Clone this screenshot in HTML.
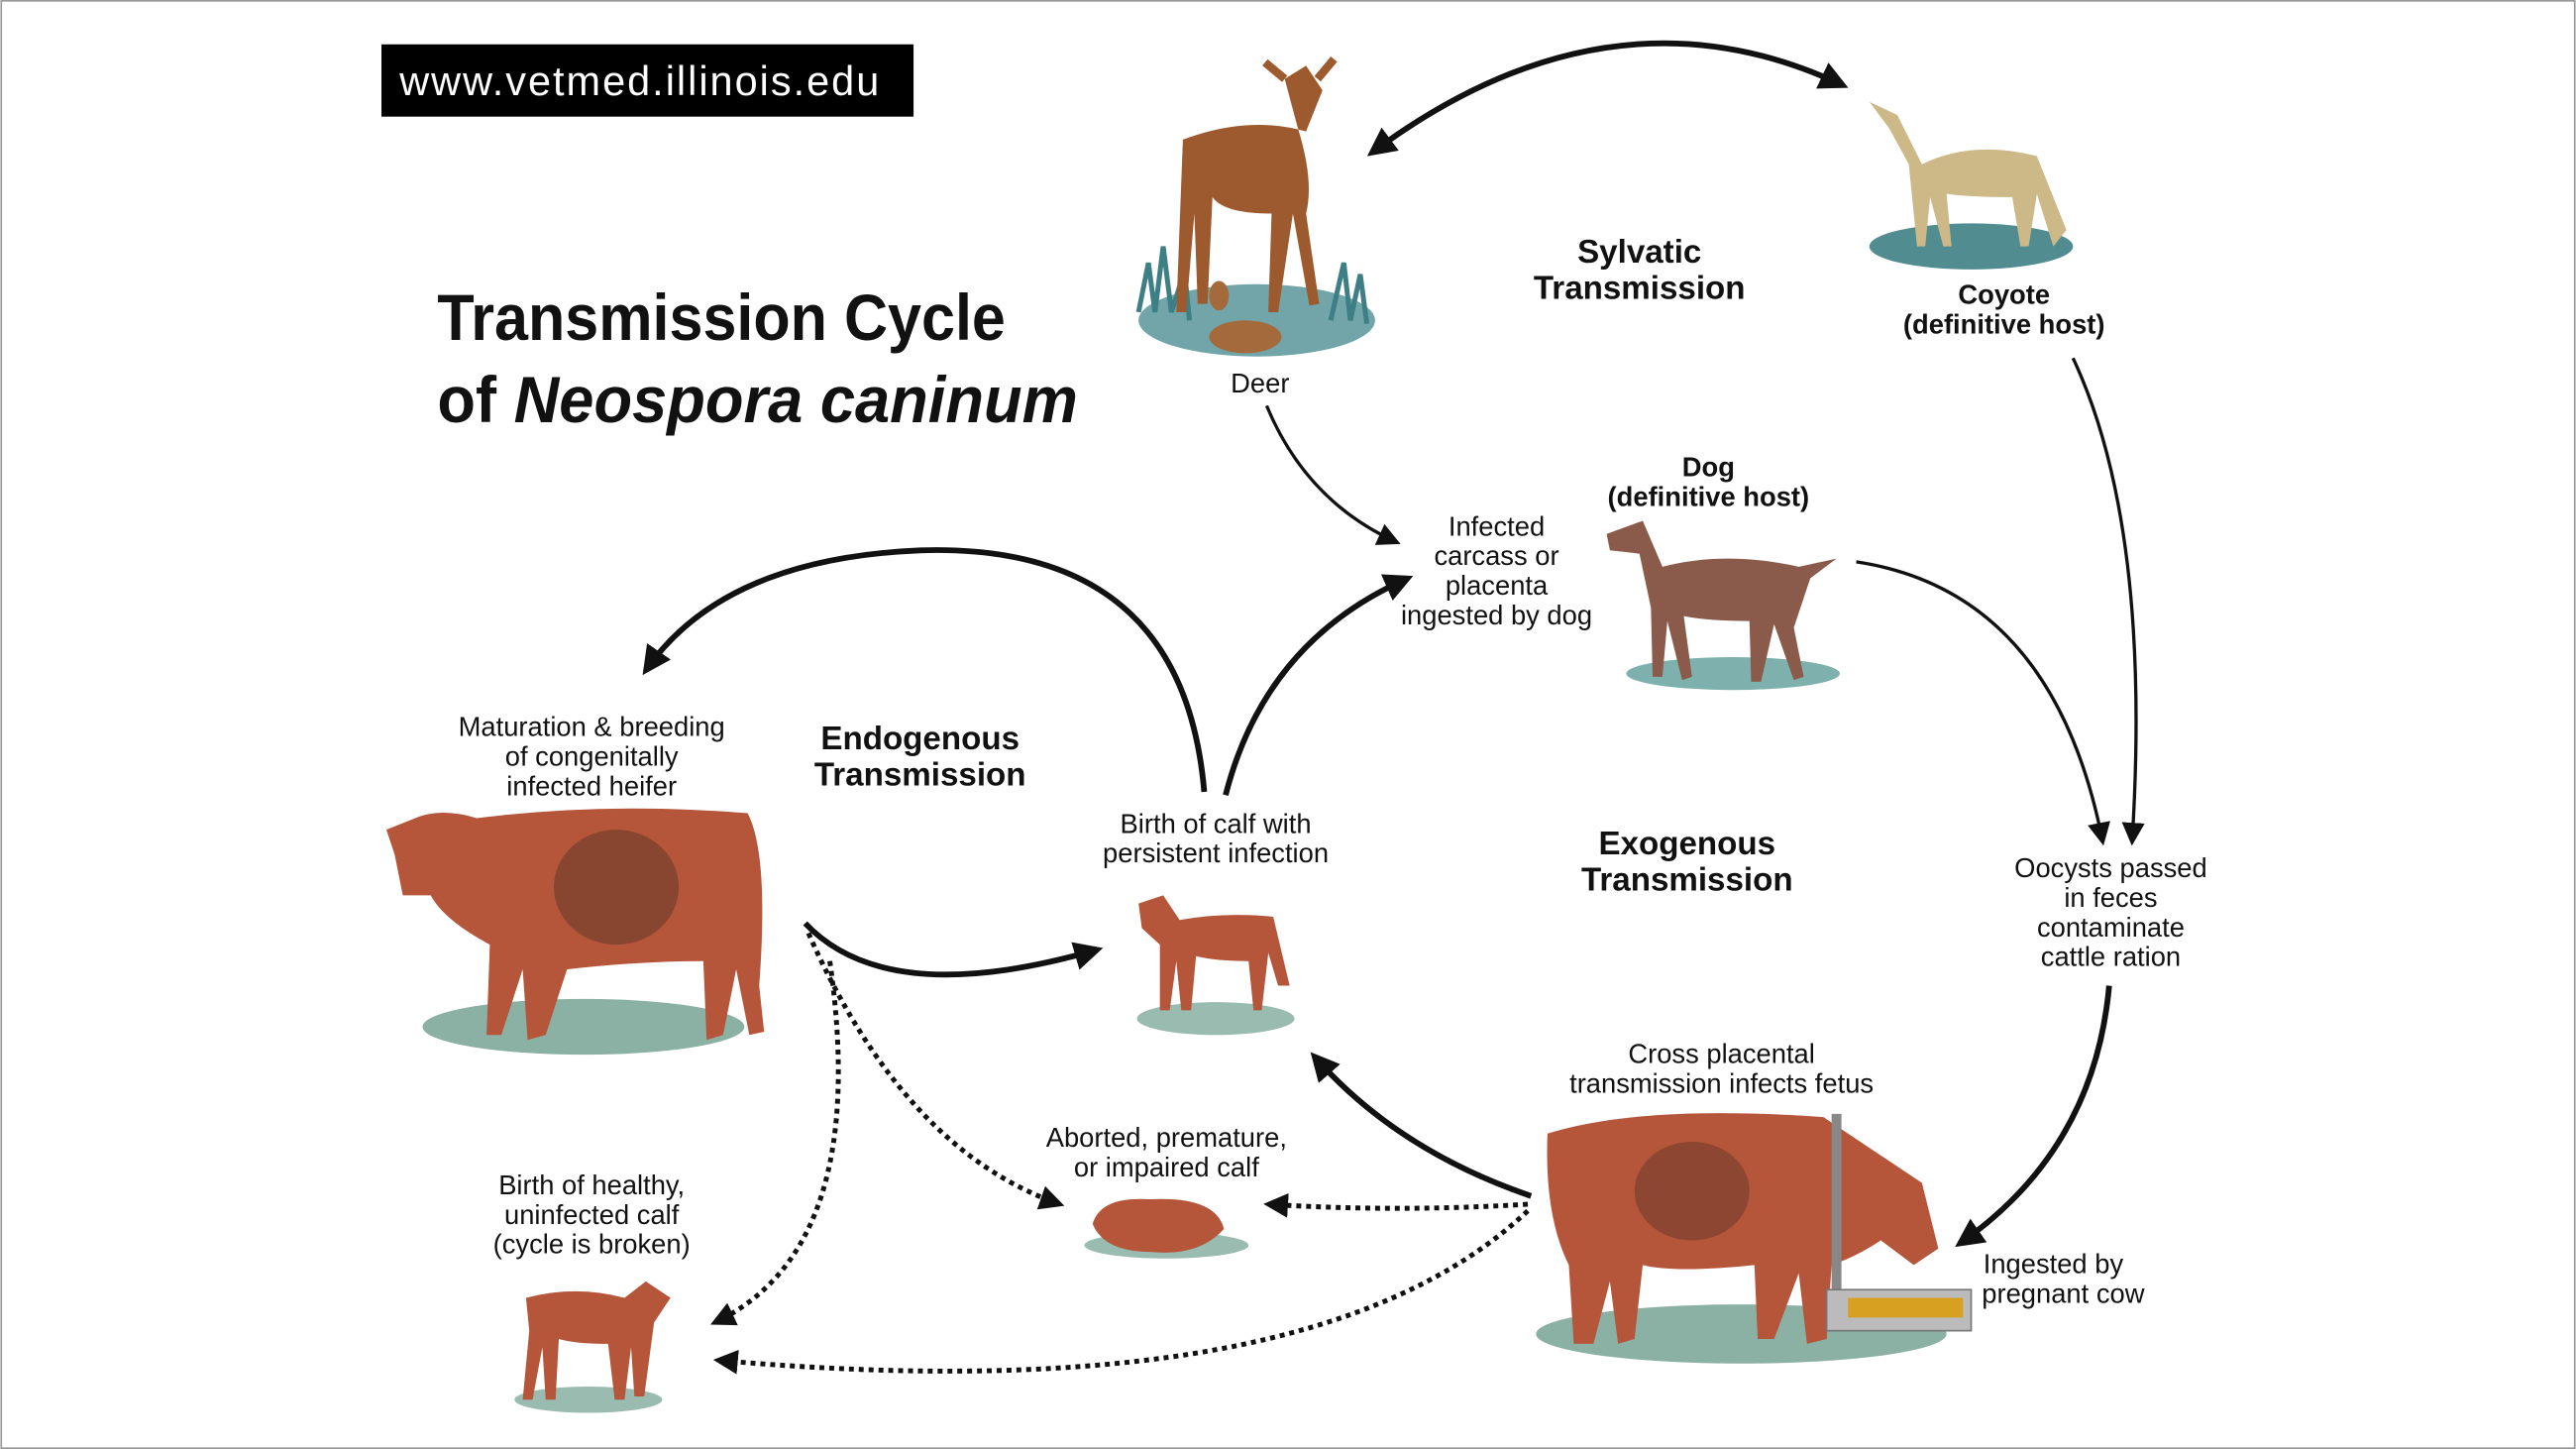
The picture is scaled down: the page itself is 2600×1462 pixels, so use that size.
<!DOCTYPE html>
<html><head><meta charset="utf-8"><style>
html,body{margin:0;padding:0;background:#fff}
svg{display:block}
text{font-family:"Liberation Sans",Arial,sans-serif;fill:#111}
</style></head><body>
<svg width="2600" height="1462" viewBox="0 0 1568 882" xmlns="http://www.w3.org/2000/svg">
<defs>
<marker id="ah" viewBox="0 0 10 10" refX="8" refY="5" markerWidth="5" markerHeight="5" orient="auto-start-reverse"><path d="M0,0 L10,5 L0,10 z" fill="#111"/></marker>
<marker id="ahs" viewBox="0 0 10 10" refX="8" refY="5" markerWidth="7" markerHeight="7" orient="auto-start-reverse"><path d="M0,0 L10,5 L0,10 z" fill="#111"/></marker>
</defs>
<rect x="0.5" y="0.5" width="1567" height="881" fill="#fff" stroke="#999" stroke-width="1"/>
<rect x="232" y="27" width="324" height="44" fill="#000"/>
<text x="243" y="58" font-size="25" style="fill:#fff" textLength="292">www.vetmed.illinois.edu</text>

<text x="266" y="207" font-size="40" font-weight="bold" textLength="346" lengthAdjust="spacingAndGlyphs">Transmission Cycle</text>
<text x="266" y="257" font-size="40" font-weight="bold" textLength="390" lengthAdjust="spacingAndGlyphs">of <tspan font-style="italic">Neospora caninum</tspan></text>

<g font-weight="bold" font-size="20" text-anchor="middle">
<text x="998" y="160">Sylvatic</text><text x="998" y="182">Transmission</text>
<text x="560" y="456">Endogenous</text><text x="560" y="478">Transmission</text>
<text x="1027" y="520">Exogenous</text><text x="1027" y="542">Transmission</text>
</g>
<g font-size="16.5" text-anchor="middle">
<text x="767" y="239">Deer</text>
<text x="1220" y="185" font-weight="bold">Coyote</text><text x="1220" y="203" font-weight="bold">(definitive host)</text>
<text x="1040" y="290" font-weight="bold">Dog</text><text x="1040" y="308" font-weight="bold">(definitive host)</text>
<text x="911" y="326">Infected</text><text x="911" y="344">carcass or</text><text x="911" y="362">placenta</text><text x="911" y="380">ingested by dog</text>
<text x="360" y="448">Maturation &amp; breeding</text><text x="360" y="466">of congenitally</text><text x="360" y="484">infected heifer</text>
<text x="740" y="507">Birth of calf with</text><text x="740" y="525">persistent infection</text>
<text x="1285" y="534">Oocysts passed</text><text x="1285" y="552">in feces</text><text x="1285" y="570">contaminate</text><text x="1285" y="588">cattle ration</text>
<text x="1048" y="647">Cross placental</text><text x="1048" y="665">transmission infects fetus</text>
<text x="710" y="698">Aborted, premature,</text><text x="710" y="716">or impaired calf</text>
<text x="360" y="727">Birth of healthy,</text><text x="360" y="745">uninfected calf</text><text x="360" y="763">(cycle is broken)</text>
<text x="1250" y="775">Ingested by</text><text x="1256" y="793">pregnant cow</text>
</g>

<!-- arrows -->
<g fill="none" stroke="#111">
<path d="M835,93 Q980,-15 1122,52" stroke-width="3.5" marker-start="url(#ah)" marker-end="url(#ah)"/>
<path d="M771,247 Q795,305 850,330" stroke-width="2" marker-end="url(#ahs)"/>
<path d="M1130,342 Q1250,360 1280,512" stroke-width="2" marker-end="url(#ahs)"/>
<path d="M1262,218 Q1310,320 1298,512" stroke-width="2" marker-end="url(#ahs)"/>
<path d="M1284,600 Q1275,700 1193,757" stroke-width="3.5" marker-end="url(#ah)"/>
<path d="M932,728 Q850,700 800,643" stroke-width="3.5" marker-end="url(#ah)"/>
<path d="M746,484 Q770,390 857,352" stroke-width="3.5" marker-end="url(#ah)"/>
<path d="M733,482 Q720,330 560,335 Q440,340 393,408" stroke-width="3.5" marker-end="url(#ah)"/>
<path d="M490,562 Q540,615 668,578" stroke-width="3.5" marker-end="url(#ah)"/>
<g stroke-width="3" stroke-dasharray="3,3">
<path d="M492,568 Q550,700 645,733" marker-end="url(#ah)"/>
<path d="M505,585 Q530,760 435,805" marker-end="url(#ah)"/>
<path d="M930,733 Q850,738 772,733" marker-end="url(#ah)"/>
<path d="M930,737 Q800,860 437,828" marker-end="url(#ah)"/>
</g>
</g>

<!-- deer -->
<ellipse cx="765" cy="195" rx="72" ry="22" fill="#4d8f94" opacity="0.8"/>
<path d="M693,190 l6,-30 l4,30 l5,-40 l5,40 l8,-25 l3,30 M810,195 l8,-35 l4,35 l6,-28 l4,30" stroke="#3d7f84" stroke-width="3" fill="none"/>
<path d="M720,85 Q760,70 795,80 L805,55 L795,40 L782,48 L790,78 Q800,110 795,130 L803,185 L797,186 L787,130 L778,190 L772,190 L774,130 Q745,130 738,120 L735,185 L729,185 L727,130 L722,190 L716,190 Z" fill="#9c5a2e"/>
<path d="M770,38 l12,10 M812,36 l-10,12" stroke="#9c5a2e" stroke-width="5"/>
<ellipse cx="758" cy="205" rx="22" ry="10" fill="#a46a3c"/>
<ellipse cx="742" cy="180" rx="6" ry="9" fill="#a46a3c"/>
<!-- coyote -->
<ellipse cx="1200" cy="150" rx="62" ry="14" fill="#3d7f84" opacity="0.9"/>
<path d="M1138,62 L1155,70 L1170,100 Q1200,85 1240,95 L1258,140 L1250,150 L1240,118 L1235,150 L1230,150 L1225,120 Q1200,120 1185,118 L1188,150 L1183,150 L1175,120 L1172,150 L1167,150 L1162,100 L1150,78 Z" fill="#cdb888"/>
<!-- dog -->
<ellipse cx="1055" cy="410" rx="65" ry="10" fill="#5e9e9a" opacity="0.8"/>
<path d="M978,325 L1000,317 L1012,345 Q1050,335 1095,345 L1118,340 L1102,352 L1092,382 L1098,412 L1092,414 L1080,380 L1072,415 L1066,415 L1065,378 Q1040,378 1025,375 L1030,412 L1024,414 L1015,378 L1012,412 L1006,412 L1005,370 L998,337 L980,335 Z" fill="#8a5a4a"/>
<!-- heifer -->
<ellipse cx="355" cy="625" rx="98" ry="17" fill="#6e9e8e" opacity="0.8"/>
<path d="M235,505 L255,497 Q270,492 290,498 Q370,488 455,495 Q468,520 462,600 L465,628 L456,630 L448,590 L440,630 L430,633 L428,585 Q390,585 345,590 L332,630 L321,633 L318,590 L305,630 L296,630 L298,575 Q270,560 262,545 L245,545 L240,520 Z" fill="#b5553a"/>
<ellipse cx="375" cy="540" rx="38" ry="35" fill="#6b3a2a" opacity="0.6"/>
<!-- calf persistent -->
<ellipse cx="740" cy="620" rx="48" ry="10" fill="#6e9e8e" opacity="0.7"/>
<path d="M693,550 L708,545 L718,560 Q745,555 775,558 L785,600 L778,600 L772,580 L768,615 L763,615 L760,585 Q740,585 728,582 L725,615 L719,615 L716,585 L712,615 L706,615 L706,575 L695,565 Z" fill="#b5553a"/>
<!-- aborted calf -->
<ellipse cx="710" cy="758" rx="50" ry="8" fill="#6e9e8e" opacity="0.7"/>
<path d="M665,745 Q670,728 700,730 Q740,728 745,748 Q730,765 700,762 Q672,762 665,745 Z" fill="#b5553a"/>
<!-- healthy calf -->
<ellipse cx="358" cy="852" rx="45" ry="8" fill="#6e9e8e" opacity="0.7"/>
<path d="M320,790 Q350,782 380,790 L393,780 L408,790 L398,805 L392,850 L386,850 L384,820 L380,852 L374,852 L370,818 Q350,818 340,815 L338,852 L332,852 L330,820 L324,852 L318,852 L322,810 Z" fill="#b5553a"/>
<!-- pregnant cow -->
<ellipse cx="1060" cy="812" rx="125" ry="18" fill="#6e9e8e" opacity="0.8"/>
<path d="M942,690 Q1000,672 1110,680 L1140,700 L1170,720 L1180,760 L1165,770 L1145,755 Q1130,765 1115,770 L1112,815 L1100,818 L1095,775 L1080,815 L1070,815 L1068,770 Q1020,775 1000,770 L995,815 L985,818 L980,780 L970,818 L958,818 L955,770 Q940,740 942,690 Z" fill="#b5553a"/>
<ellipse cx="1030" cy="725" rx="35" ry="30" fill="#6b3a2a" opacity="0.55"/>
<rect x="1115" y="678" width="6" height="110" fill="#888"/>
<rect x="1112" y="785" width="88" height="25" fill="#bbb" stroke="#777"/>
<rect x="1125" y="790" width="70" height="12" fill="#d8a020"/>
</svg>
</body></html>
